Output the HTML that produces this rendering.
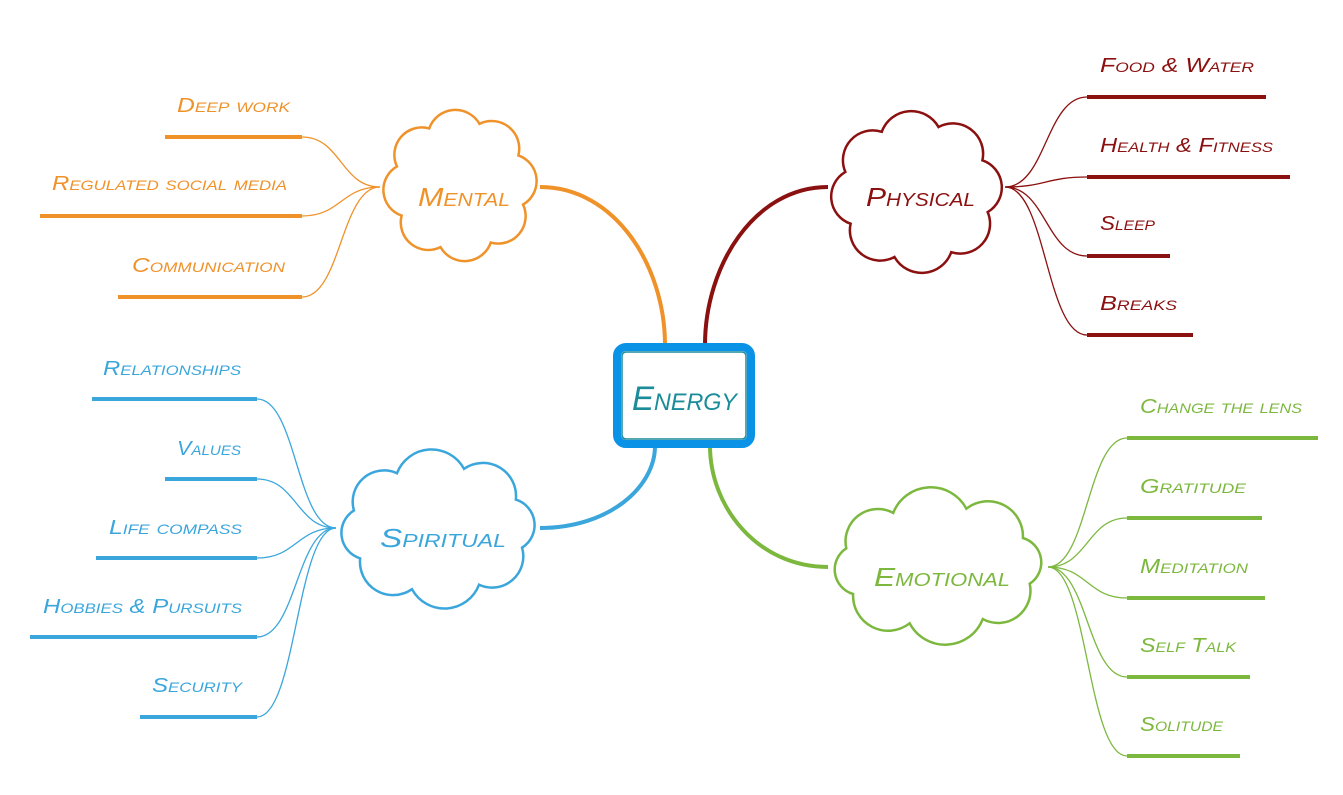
<!DOCTYPE html>
<html><head><meta charset="utf-8"><style>
html,body{margin:0;padding:0;background:#fff;width:1343px;height:795px;overflow:hidden}
svg text{font-family:"Liberation Sans",sans-serif;font-variant:small-caps;font-style:italic}
</style></head><body>
<svg id="s" width="1343" height="795" xmlns="http://www.w3.org/2000/svg">
<rect x="617" y="347" width="134" height="97" rx="9" fill="#fff" stroke="#0a93e6" stroke-width="8"/>
<rect x="622" y="352" width="124" height="87" rx="4" fill="none" stroke="#1a8c9a" stroke-width="1.5"/>
<text x="632" y="410" font-size="34" fill="#1a8c9a" textLength="105" lengthAdjust="spacingAndGlyphs">Energy</text>
</svg>
<script>
const s=document.getElementById('s');const NS='http://www.w3.org/2000/svg';
function el(t,a,txt){const e=document.createElementNS(NS,t);for(const k in a)e.setAttribute(k,a[k]);if(txt)e.textContent=txt;s.insertBefore(e,s.firstChild);return e;}
function add(t,a,txt){const e=document.createElementNS(NS,t);for(const k in a)e.setAttribute(k,a[k]);if(txt)e.textContent=txt;s.appendChild(e);return e;}
function cloud(x0,y0,x1,y1,c){const cx=(x0+x1)/2,cy=(y0+y1)/2,rx=(x1-x0)/2-14,ry=(y1-y0)/2-14;const n=8;let pts=[];for(let i=0;i<n;i++){const a=i/n*2*Math.PI+0.3;pts.push([cx+rx*Math.cos(a),cy+ry*Math.sin(a)]);}
let d='M'+pts[0].join(',');for(let i=0;i<n;i++){const p=pts[i],q=pts[(i+1)%n];const ch=Math.hypot(q[0]-p[0],q[1]-p[1]);d+=` A${ch*0.55},${ch*0.55} 0 0 1 ${q[0]},${q[1]}`;}
add('path',{d:d+'Z',fill:'#fff',stroke:c,'stroke-width':2.5});}
function curve(sx,sy,ex,ey,c,w){const mx=(sx+ex)/2;add('path',{d:`M${sx},${sy} C${mx},${sy} ${mx},${ey} ${ex},${ey}`,fill:'none',stroke:c,'stroke-width':w});}
function txt(x,y,t,w,c,fs){add('text',{x:x,y:y,'font-size':fs||20,fill:c,textLength:w,lengthAdjust:'spacingAndGlyphs'},t);}
function main(sx,sy,ex,ey,c){add('path',{d:`M${sx},${sy} C${sx+ (ex-sx)*0.6},${sy} ${ex},${ey-(ey-sy)*0.5} ${ex},${ey}`,fill:'none',stroke:c,'stroke-width':4});}
const O='#f0922a',R='#8b1010',B='#3aa6dc',G='#7cb83e';
main(540,187,665,345,O);main(828,187,705,345,R);main(540,528,655,446,B);main(828,567,710,446,G);
// Mental
[[137,165,'Deep work',177,112,113],[216,40,'Regulated social media',52,190,235],[297,118,'Communication',132,272,153]].forEach(a=>{curve(380,187,302,a[0],O,1.3);add('line',{x1:a[1],y1:a[0],x2:302,y2:a[0],stroke:O,'stroke-width':4});txt(a[3],a[4],a[2],a[5],O);});
// Physical
[[97,1266,'Food & Water',1100,72,154],[177,1290,'Health & Fitness',1100,152,173],[256,1170,'Sleep',1100,230,55],[335,1193,'Breaks',1100,310,77]].forEach(a=>{curve(1005,187,1087,a[0],R,1.3);add('line',{x1:1087,y1:a[0],x2:a[1],y2:a[0],stroke:R,'stroke-width':4});txt(a[3],a[4],a[2],a[5],R);});
// Spiritual
[[399,92,'Relationships',103,375,138],[479,165,'Values',177,455,64],[558,96,'Life compass',109,534,133],[637,30,'Hobbies & Pursuits',43,613,199],[717,140,'Security',152,692,90]].forEach(a=>{curve(336,528,257,a[0],B,1.3);add('line',{x1:a[1],y1:a[0],x2:257,y2:a[0],stroke:B,'stroke-width':4});txt(a[3],a[4],a[2],a[5],B);});
// Emotional
[[438,1318,'Change the lens',1140,413,162],[518,1262,'Gratitude',1140,493,106],[598,1265,'Meditation',1140,573,108],[677,1250,'Self Talk',1140,652,96],[756,1240,'Solitude',1140,731,83]].forEach(a=>{curve(1048,567,1127,a[0],G,1.3);add('line',{x1:1127,y1:a[0],x2:a[1],y2:a[0],stroke:G,'stroke-width':4});txt(a[3],a[4],a[2],a[5],G);});
cloud(380,107,540,264,O);cloud(828,110,1005,274,R);cloud(336,452,540,606,B);cloud(828,492,1048,640,G);
txt(418,206,'Mental',92,O,26);txt(866,206,'Physical',109,R,26);txt(380,547,'Spiritual',126,B,26);txt(874,586,'Emotional',136,G,26);
// keep center on top
s.appendChild(s.querySelector('rect'));s.appendChild(s.querySelectorAll('rect')[0]);
const rs=[...s.querySelectorAll('rect')];rs.forEach(r=>s.appendChild(r));s.appendChild(s.querySelector('text'));
</script>
</body></html>
